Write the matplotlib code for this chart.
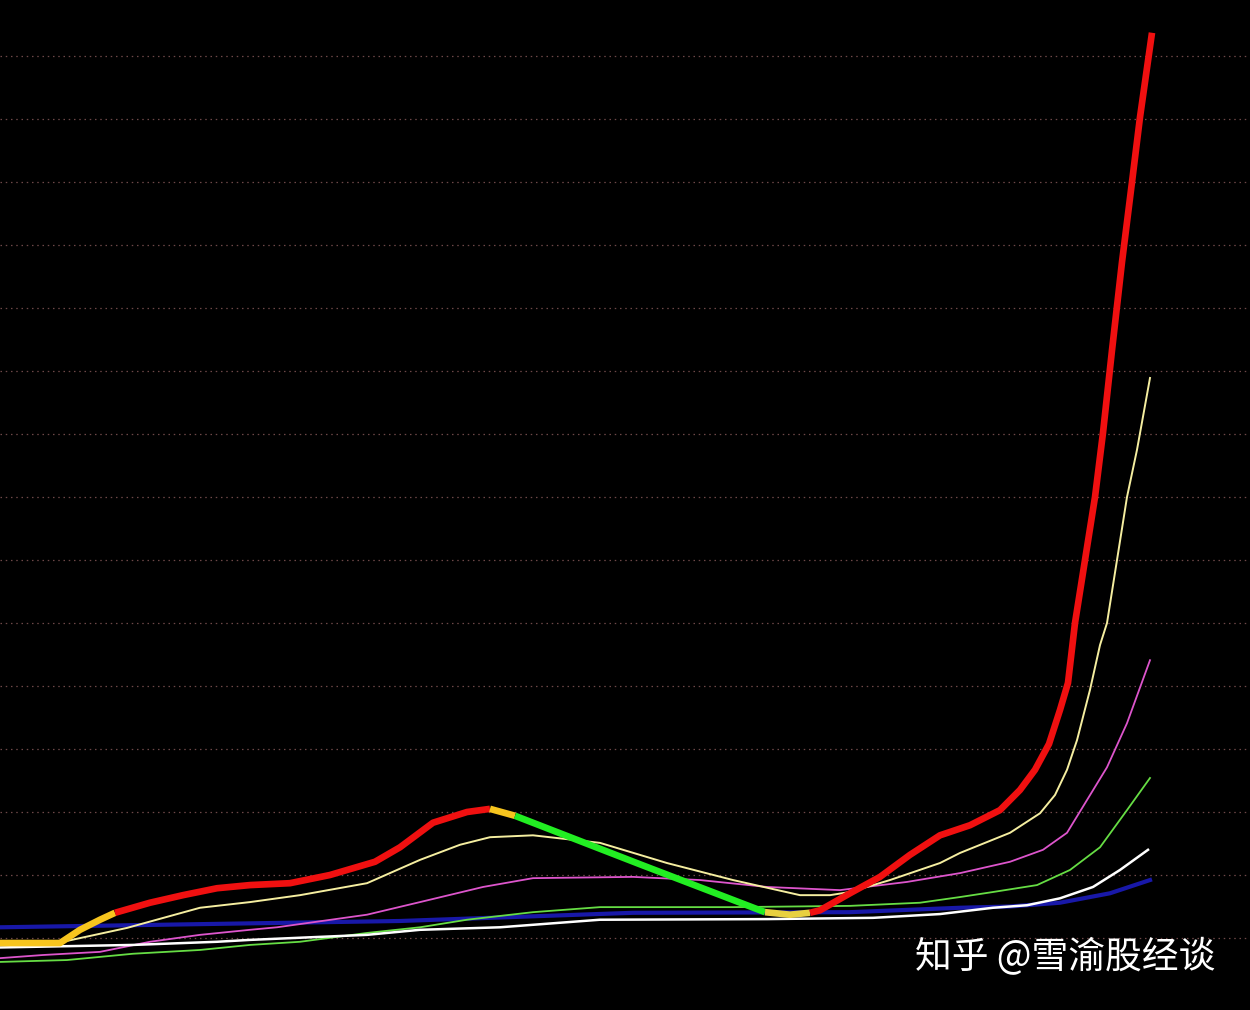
import numpy as np
import matplotlib
matplotlib.use("Agg")
import matplotlib.pyplot as plt

plt.rcParams['font.family'] = ['Noto Sans CJK SC', 'DejaVu Sans']

# Hauptlinie (dick, farbige Abschnitte)
main_x = [0, 6.0, 8.0, 10.0, 11.5, 15.0, 18.3, 21.7, 25.0, 29.0, 33.0, 37.5, 40.0, 43.3, 46.7, 49.0,
          51.5, 64.0, 76.5, 79.0, 81.0, 82.0, 85.0, 88.0, 91.0, 94.0, 97.0, 100.0, 102.0, 103.5,
          104.9, 106.0, 106.8, 107.5, 108.5, 109.5, 110.3, 111.2, 112.2, 113.2, 114.0, 115.2]
main_y = [-0.08, -0.08, 0.13, 0.29, 0.40, 0.56, 0.68, 0.79, 0.84, 0.87, 1.00, 1.21, 1.44, 1.83, 2.00, 2.05,
          1.94, 1.17, 0.41, 0.37, 0.40, 0.44, 0.71, 0.97, 1.32, 1.63, 1.79, 2.03, 2.35, 2.67,
          3.08, 3.62, 4.05, 5.00, 6.00, 7.00, 8.02, 9.33, 10.73, 12.00, 13.03, 14.37]
# Abschnitte: (von, bis, Farbe)
main_segments = [(0, 11.5, '#f7c51e'), (11.5, 49.0, '#f01010'), (49.0, 51.5, '#f7c51e'),
                 (51.5, 76.5, '#22ee22'), (76.5, 81.0, '#e8d040'), (81.0, 115.2, '#f01010')]

# Duenne Linien
yel_x = [6.3, 12.7, 20.0, 25.0, 30.0, 36.7, 42.0, 46.0, 49.0, 53.3, 60.0, 66.7, 73.3, 80.0, 83.0, 85.0,
         89.0, 94.0, 96.0, 101.0, 104.0, 105.5, 106.7, 107.7, 109.0, 110.0, 110.7, 111.7, 112.7,
         113.7, 115.0]
yel_y = [-0.06, 0.16, 0.48, 0.57, 0.68, 0.87, 1.24, 1.48, 1.60, 1.63, 1.51, 1.19, 0.92, 0.68, 0.68, 0.73,
         0.92, 1.19, 1.35, 1.67, 1.98, 2.27, 2.67, 3.14, 3.94, 4.65, 5.00, 6.00, 7.00,
         7.75, 8.89]

mag_x = [0, 4.3, 10.0, 15.0, 20.0, 25.0, 27.7, 36.7, 42.0, 48.3, 53.3, 63.3, 70.0, 76.7, 84.0, 90.7,
         96.0, 101.0, 104.3, 106.7, 108.7, 110.7, 112.7, 115.0]
mag_y = [-0.32, -0.27, -0.22, -0.06, 0.05, 0.13, 0.17, 0.37, 0.57, 0.81, 0.95, 0.97, 0.92, 0.81, 0.76, 0.89,
         1.03, 1.21, 1.40, 1.67, 2.19, 2.71, 3.41, 4.41]

grn_x = [0, 6.7, 13.3, 20.0, 25.0, 30.0, 36.7, 42.0, 46.7, 53.3, 60.0, 73.3, 85.0, 92.0, 96.0,
         99.3, 103.7, 107.0, 110.0, 112.7, 115.0]
grn_y = [-0.38, -0.35, -0.25, -0.19, -0.11, -0.06, 0.08, 0.17, 0.29, 0.41, 0.49, 0.49, 0.51, 0.56, 0.65,
         0.73, 0.84, 1.08, 1.44, 2.03, 2.54]

wht_x = [0, 13.3, 21.7, 25.0, 36.7, 42.0, 50.0, 60.0, 76.7, 87.3, 94.0, 99.3, 102.7, 106.0, 109.3,
         112.0, 114.8]
wht_y = [-0.15, -0.11, -0.06, -0.03, 0.05, 0.13, 0.17, 0.29, 0.30, 0.32, 0.38, 0.48, 0.52, 0.63, 0.81,
         1.08, 1.40]

blu_x = [0, 40.0, 63.3, 85.0, 96.0, 101.0, 106.0, 111.0, 115.0]
blu_y = [0.17, 0.27, 0.40, 0.41, 0.48, 0.50, 0.56, 0.71, 0.92]

gitter = np.arange(0, 15)

fig = plt.figure(figsize=(12.5, 10.1), dpi=100, facecolor='black')
ax = fig.add_axes([0, 0, 1, 1])
ax.set_facecolor('black')

# Gitterlinien gepunktet
for g in gitter:
    ax.axhline(g, color='#6e4848', linestyle=(0, (1.2, 3)), linewidth=0.9, zorder=1)

ax.plot(blu_x, blu_y, color='#1818a8', linewidth=3.0, zorder=2)
ax.plot(grn_x, grn_y, color='#66dd44', linewidth=1.3, zorder=3)
ax.plot(mag_x, mag_y, color='#dd55cc', linewidth=1.3, zorder=3)
ax.plot(yel_x, yel_y, color='#f5eea0', linewidth=1.4, zorder=3)
ax.plot(wht_x, wht_y, color='white', linewidth=1.8, zorder=3)

mx = np.array(main_x)
my = np.array(main_y)
for von, bis, farbe in main_segments:
    m = (mx >= von) & (mx <= bis)
    ax.plot(mx[m], my[m], color=farbe, linewidth=4.8, solid_capstyle='butt',
            solid_joinstyle='round', zorder=4)

ax.set_xlim(0, 125)
ax.set_ylim(-1.143, 14.89)
ax.axis('off')

fig.text(1215 / 1250, 1 - 958 / 1010, '知乎 @雪渝股经谈', color='white', fontsize=26.5,
         fontweight='medium', ha='right', va='center')

plt.savefig('out.png', facecolor='black')
